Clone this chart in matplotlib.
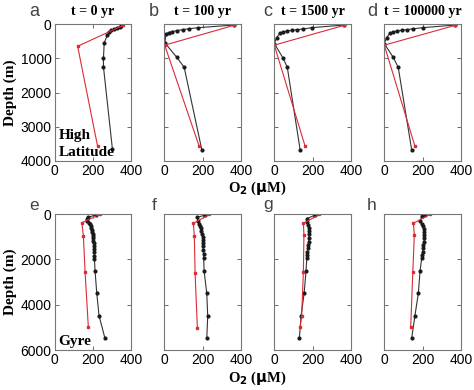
import matplotlib
matplotlib.use('Agg')
import matplotlib.pyplot as plt

# high latitude, top row (O2 in uM, depth in m)
hl_titles = ['t = 0 yr', 't = 100 yr', 't = 1500 yr', 't = 100000 yr']
hl_letters = ['a', 'b', 'c', 'd']

hl_red_depth = [[40, 650, 3560], [38, 617, 3565], [38, 617, 3565], [38, 617, 3565]]
hl_red_o2 = [[358, 121, 225], [365, 2, 182], [366, 0, 161], [372, 0, 160]]

hl_blk_depth = [
    [60, 90, 115, 145, 185, 240, 310, 550, 985, 1255, 3660],
    [30, 107, 136, 165, 194, 223, 252, 290, 550, 977, 1266, 3670],
    [30, 107, 145, 165, 183, 203, 232, 270, 397, 571, 997, 1267, 3671],
    [30, 107, 140, 165, 183, 203, 232, 270, 397, 571, 977, 1267, 3671],
]
hl_blk_o2 = [
    [350, 340, 328, 312, 298, 286, 277, 260, 256, 256, 303],
    [365, 178, 131, 97, 66, 40, 22, 9, 3, 66, 104, 196],
    [366, 196, 152, 117, 91, 68, 47, 30, 12, 0, 46, 68, 135],
    [370, 201, 152, 117, 91, 65, 47, 30, 12, 0, 47, 73, 143],
]

# gyre, bottom row
gy_letters = ['e', 'f', 'g', 'h']

gy_red_depth = [[15, 384, 956, 2574, 5000], [20, 415, 960, 2620, 5030],
                [20, 410, 926, 2574, 4486, 5000], [20, 410, 926, 2574, 5000]]
gy_red_o2 = [[238, 143, 151, 160, 177], [235, 152, 157, 161, 173],
             [236, 152, 155, 152, 143, 135], [239, 152, 157, 149, 138]]

gy_blk_depth = [
    [40, 150, 230, 300, 380, 450, 530, 610, 700, 790, 880, 980, 1080, 1190, 1300,
     1420, 1550, 1690, 1840, 2000, 2500, 3500, 4490, 5490],
    [40, 150, 300, 420, 520, 630, 750, 870, 1000, 1130, 1270, 1420, 1580, 1750,
     1920, 2500, 3500, 4500, 5490],
    [40, 200, 340, 480, 600, 750, 900, 1070, 1220, 1370, 1520, 1660, 1800, 1930,
     2500, 3500, 4490, 5490],
    [40, 100, 320, 420, 520, 650, 780, 920, 1070, 1220, 1370, 1520, 1660, 1800,
     1930, 2500, 3500, 4490, 5490],
]
gy_blk_o2 = [
    [215, 175, 168, 172, 178, 184, 189, 193, 196, 198, 200, 201, 202, 203, 204,
     205, 206, 207, 208, 209, 212, 221, 233, 264],
    [215, 173, 175, 180, 185, 190, 194, 197, 200, 201, 202, 203, 204, 205,
     206, 208, 222, 227, 222],
    [215, 171, 172, 178, 181, 182, 181, 180, 179, 178, 176, 173, 171, 170,
     166, 156, 140, 131],
    [215, 196, 187, 195, 201, 206, 209, 210, 210, 207, 204, 202, 201, 198,
     196, 187, 178, 160, 143],
]

W, H = 474, 390
fig = plt.figure(figsize=(W / 100, H / 100), dpi=100)

RED = '#dd2a35'
BLK = '#1a1a1a'
SERIF = 'Liberation Serif'
SANS = 'Liberation Sans'

lefts = [54.5, 164.3, 274.3, 384.3]
letter_x = [34, 154, 268, 372]
pw = 76.5


def add_ax(x0, y0, w, h):
    return fig.add_axes([x0 / W, 1 - (y0 + h) / H, w / W, h / H])


def style(ax, ymax, yticks, show_y):
    ax.set_xlim(0, 400)
    ax.set_ylim(ymax, 0)
    ax.set_xticks([0, 200, 400])
    ax.set_yticks(yticks)
    ax.tick_params(direction='in', length=3, width=0.6, color='#555',
                   top=True, right=True, labelsize=10, pad=2)
    for lab in ax.get_xticklabels() + ax.get_yticklabels():
        lab.set_family(SANS)
    if not show_y:
        ax.set_yticklabels([])
    for s in ax.spines.values():
        s.set_color('#777')
        s.set_linewidth(0.8)


def ftext(x, y, s, **kw):
    fig.text(x / W, 1 - y / H, s, **kw)


for i in range(4):
    ax = add_ax(lefts[i], 24, pw, 137)
    ax.plot(hl_blk_o2[i], hl_blk_depth[i], '-', color='#333', lw=0.8,
            marker='o', ms=2, mfc=BLK, mec=BLK)
    ax.plot(hl_red_o2[i], hl_red_depth[i], '-', color=RED, lw=0.8,
            marker='s', ms=2, mfc=RED, mec=RED)
    style(ax, 4000, [0, 1000, 2000, 3000, 4000], i == 0)
    ftext(lefts[i] + pw / 2, 12, hl_titles[i], ha='center', va='center',
          family=SERIF, fontweight='bold', fontsize=10)
    ftext(letter_x[i], 12, hl_letters[i], ha='center', va='center',
          family=SANS, fontsize=13, color='#444')

    ax2 = add_ax(lefts[i], 214, pw, 136)
    ax2.plot(gy_blk_o2[i], gy_blk_depth[i], '-', color='#333', lw=0.8,
             marker='o', ms=2, mfc=BLK, mec=BLK)
    ax2.plot(gy_red_o2[i], gy_red_depth[i], '-', color=RED, lw=0.8,
             marker='s', ms=2, mfc=RED, mec=RED)
    style(ax2, 6000, [0, 2000, 4000, 6000], i == 0)
    ftext(letter_x[i], 205, gy_letters[i], ha='center', va='center',
          family=SANS, fontsize=12.5, color='#444')

ftext(59, 135, 'High', family=SERIF, fontweight='bold', fontsize=11, va='center')
ftext(59, 153, 'Latitude', family=SERIF, fontweight='bold', fontsize=11, va='center')
ftext(58, 341, 'Gyre', family=SERIF, fontweight='bold', fontsize=11, va='center')

for yc in [92.5, 282]:
    ftext(10, yc, 'Depth (m)', rotation=90, ha='center', va='center',
          family=SERIF, fontweight='bold', fontsize=11)
for yc in [188, 378]:
    ftext(257, yc, r'O$_\mathbf{2}$ ($\mathbf{\mu}$M)', ha='center', va='center',
          family=SERIF, fontweight='bold', fontsize=10.5)

fig.savefig('out.png', dpi=100)
